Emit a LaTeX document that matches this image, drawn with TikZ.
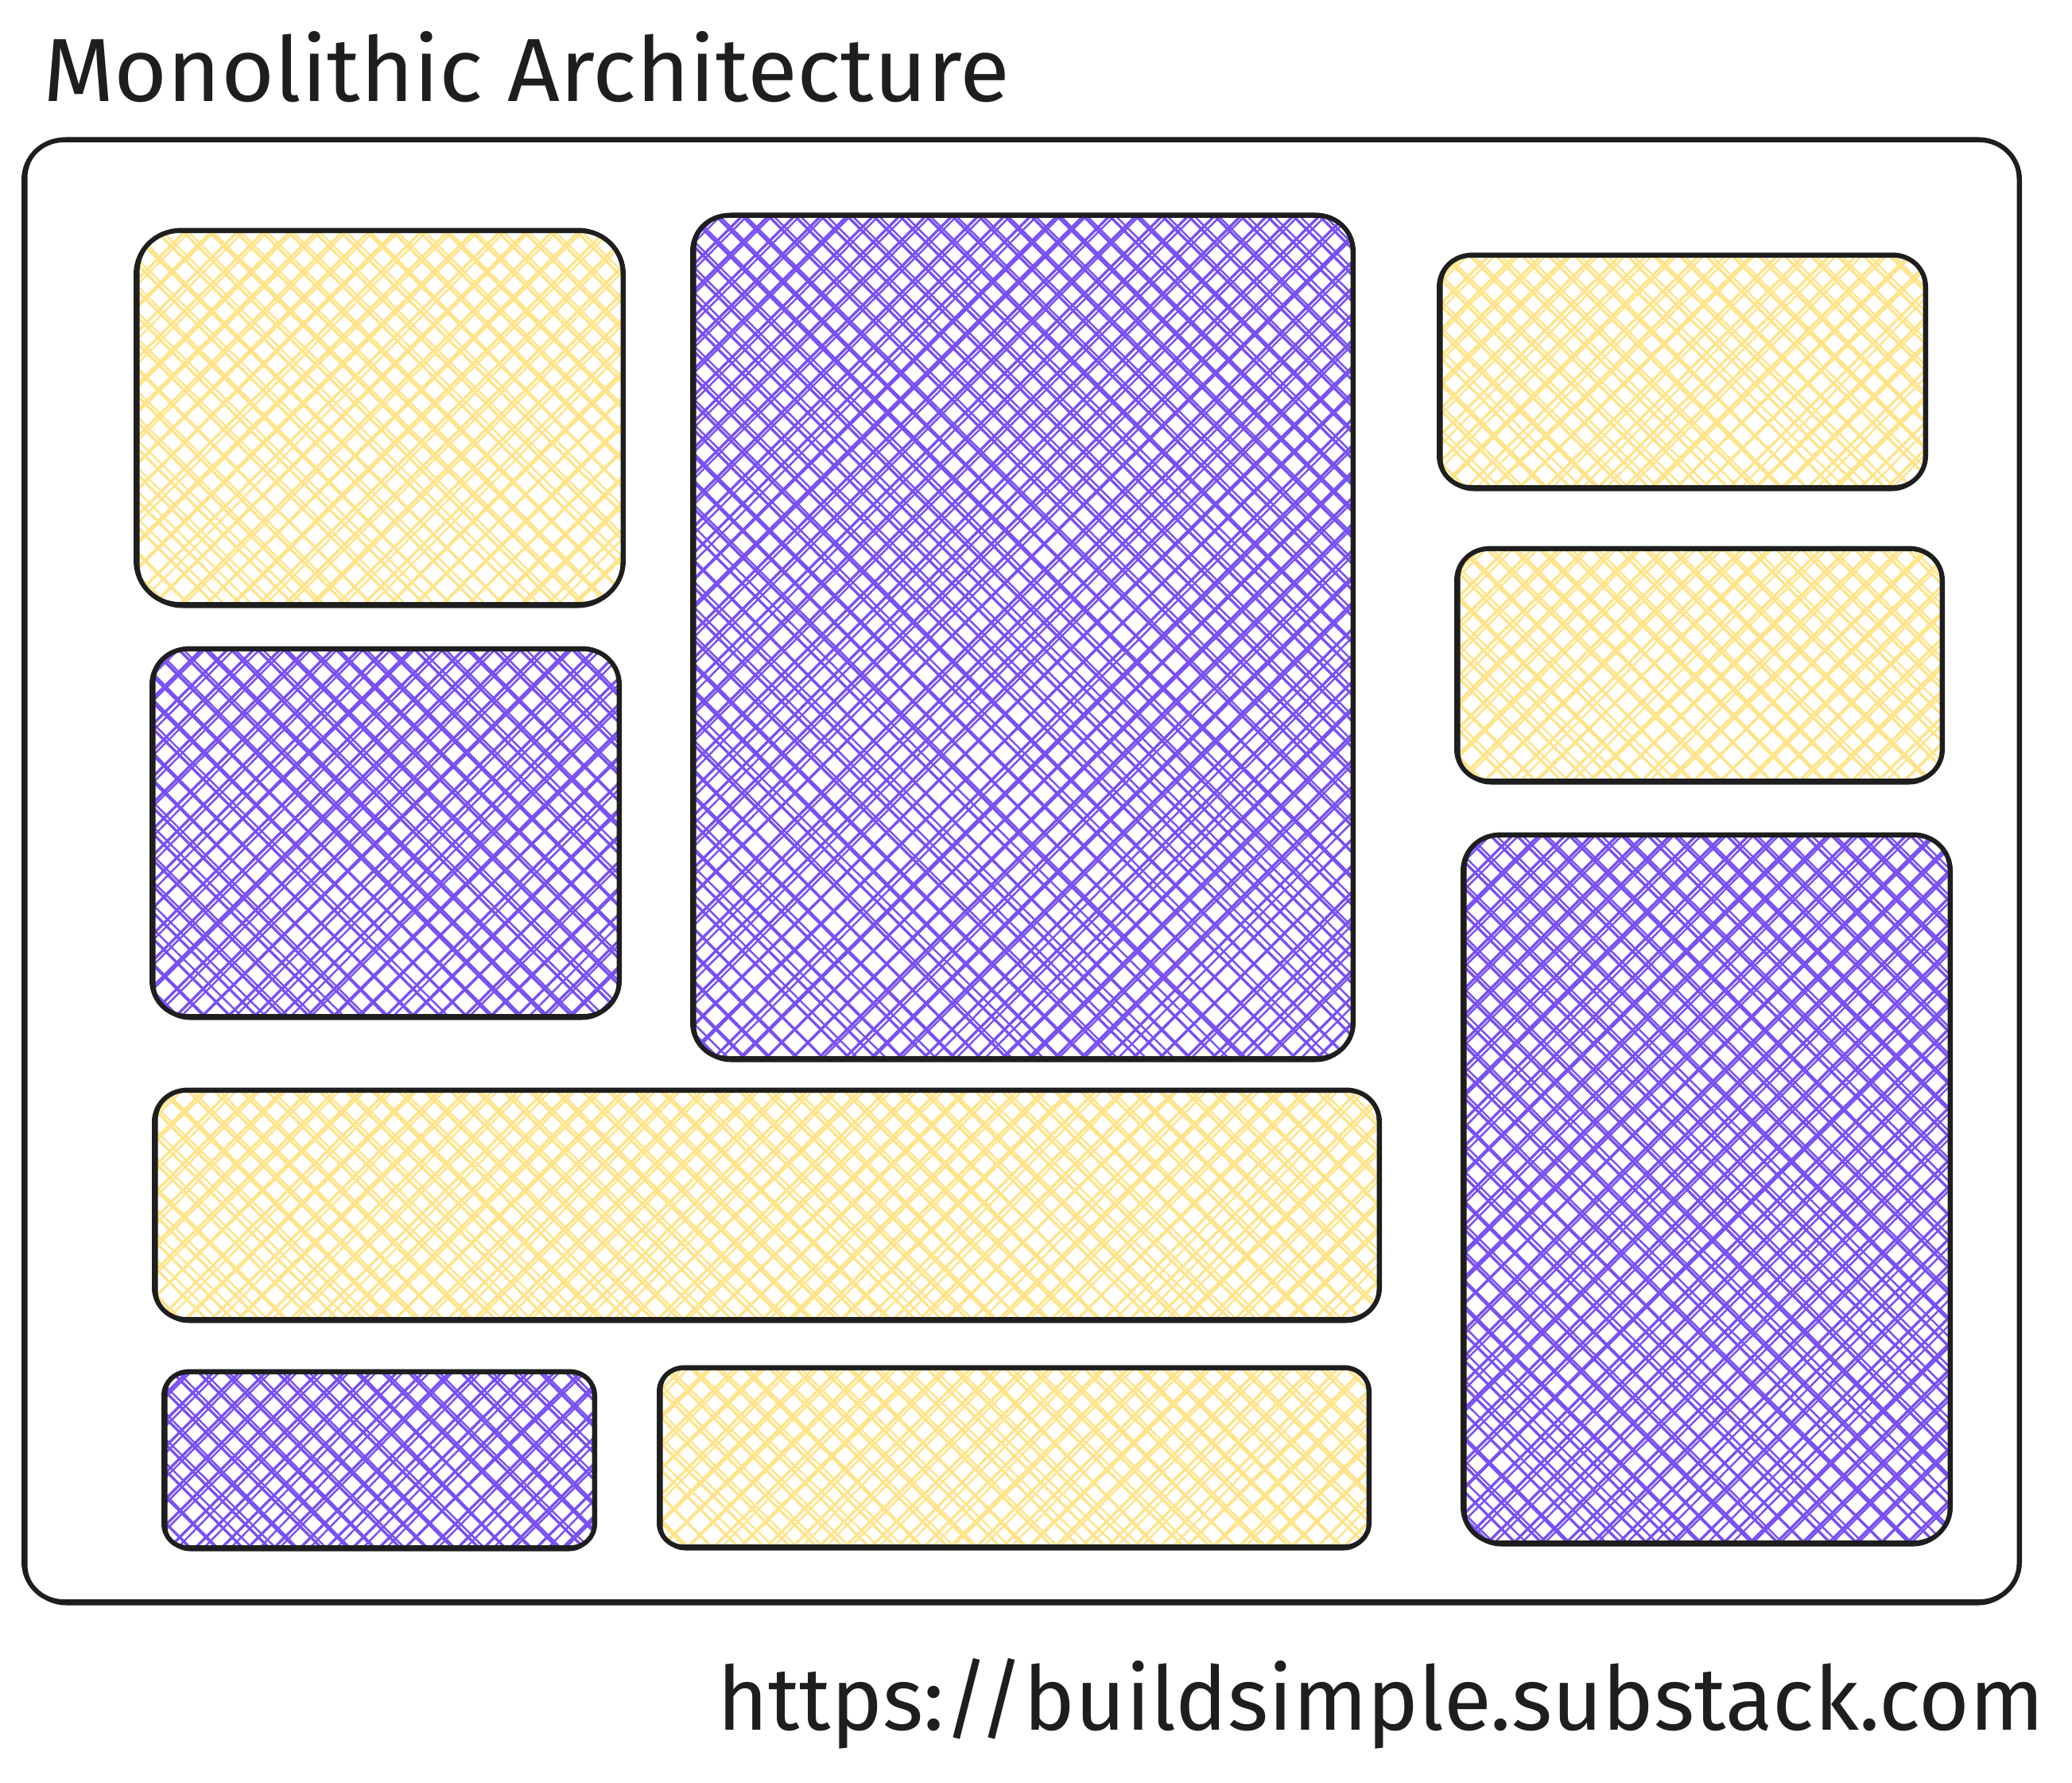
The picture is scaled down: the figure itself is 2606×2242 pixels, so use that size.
\documentclass[tikz,border=0pt]{standalone}
\usepackage{fontspec}
\setmainfont{Fira Sans}
\definecolor{ink}{HTML}{1E1E1E}
\definecolor{yel}{HTML}{FFE48A}
\definecolor{vio}{HTML}{7950F2}
\tikzset{
  outline/.style={draw=ink, line width=6pt, line join=round, line cap=round},
  outline2/.style={draw=ink, line width=3pt, line join=round, line cap=round},
  hatchline/.style={draw=#1, line width=3.3pt, line cap=round},
  hatchlinetwo/.style={draw=#1, line width=2.4pt, line cap=round},
  label/.style={anchor=base west, inner sep=0pt, text=ink},
}
% x1, y1, x2, y2, colour, radius
\newcommand\sketchbox[6]{%
  \begin{scope}
    \clip[rounded corners=#6pt] (#1,#2) rectangle (#3,#4);
    \pgfmathsetmacro\hbH{#4-#2}
    \pgfmathsetmacro\hbA{#1-\hbH}
    \pgfmathsetmacro\hbB{\hbA+33}
    \pgfmathsetmacro\hbE{#3+3}
    \foreach \x in {\hbA,\hbB,...,\hbE} {
      \pgfmathsetmacro\ja{6+rand*2}
      \pgfmathsetmacro\jb{rand*8}
      \draw[hatchline=#5] (\x,#2) -- ++(\hbH,\hbH);
      \draw[hatchlinetwo=#5] ({\x+\ja},#2) -- ++({\hbH+\jb},\hbH);
    }
    \pgfmathsetmacro\hbC{#1-3}
    \pgfmathsetmacro\hbD{\hbC+33}
    \pgfmathsetmacro\hbF{#3+\hbH}
    \foreach \x in {\hbC,\hbD,...,\hbF} {
      \pgfmathsetmacro\ja{6+rand*2}
      \pgfmathsetmacro\jb{rand*8}
      \draw[hatchline=#5] (\x,#2) -- ++(-\hbH,\hbH);
      \draw[hatchlinetwo=#5] ({\x+\ja},#2) -- ++({-\hbH+\jb},\hbH);
    }
  \end{scope}
  \draw[outline, rounded corners=#6pt] (#1,#2) rectangle (#3,#4);
  \draw[outline2, rounded corners=#6pt] ({#1+3},{#2-2}) rectangle ({#3-2},{#4+3});
}
\begin{document}
\begin{tikzpicture}[x=1pt,y=-1pt]
\pgfmathsetseed{42}
\useasboundingbox (0,0) rectangle (2606,2242);
\fill[white] (0,0) rectangle (2606,2242);

% outer container
\draw[outline, rounded corners=50pt] (30,176) rectangle (2540,2014);
\draw[outline2, rounded corners=50pt] (33,174) rectangle (2538,2017);

% modules
\sketchbox{171}{290}{784}{760}{yel}{55}
\sketchbox{191}{816}{779}{1278}{vio}{45}
\sketchbox{871}{271}{1702}{1331}{vio}{45}
\sketchbox{1810}{321}{2422}{613}{yel}{40}
\sketchbox{1832}{690}{2443}{982}{yel}{40}
\sketchbox{1840}{1050}{2453}{1940}{vio}{45}
\sketchbox{194}{1371}{1735}{1659}{yel}{40}
\sketchbox{206}{1725}{748}{1946}{vio}{30}
\sketchbox{829}{1720}{1722}{1945}{yel}{30}

% texts
\node[label] (title) at (54,128) {\resizebox{1215pt}{88pt}{Monolithic Architecture}};
\node[label] (url) at (902,2175) {\resizebox{1668pt}{90pt}{https://buildsimple.substack.com}};
\end{tikzpicture}
\end{document}
